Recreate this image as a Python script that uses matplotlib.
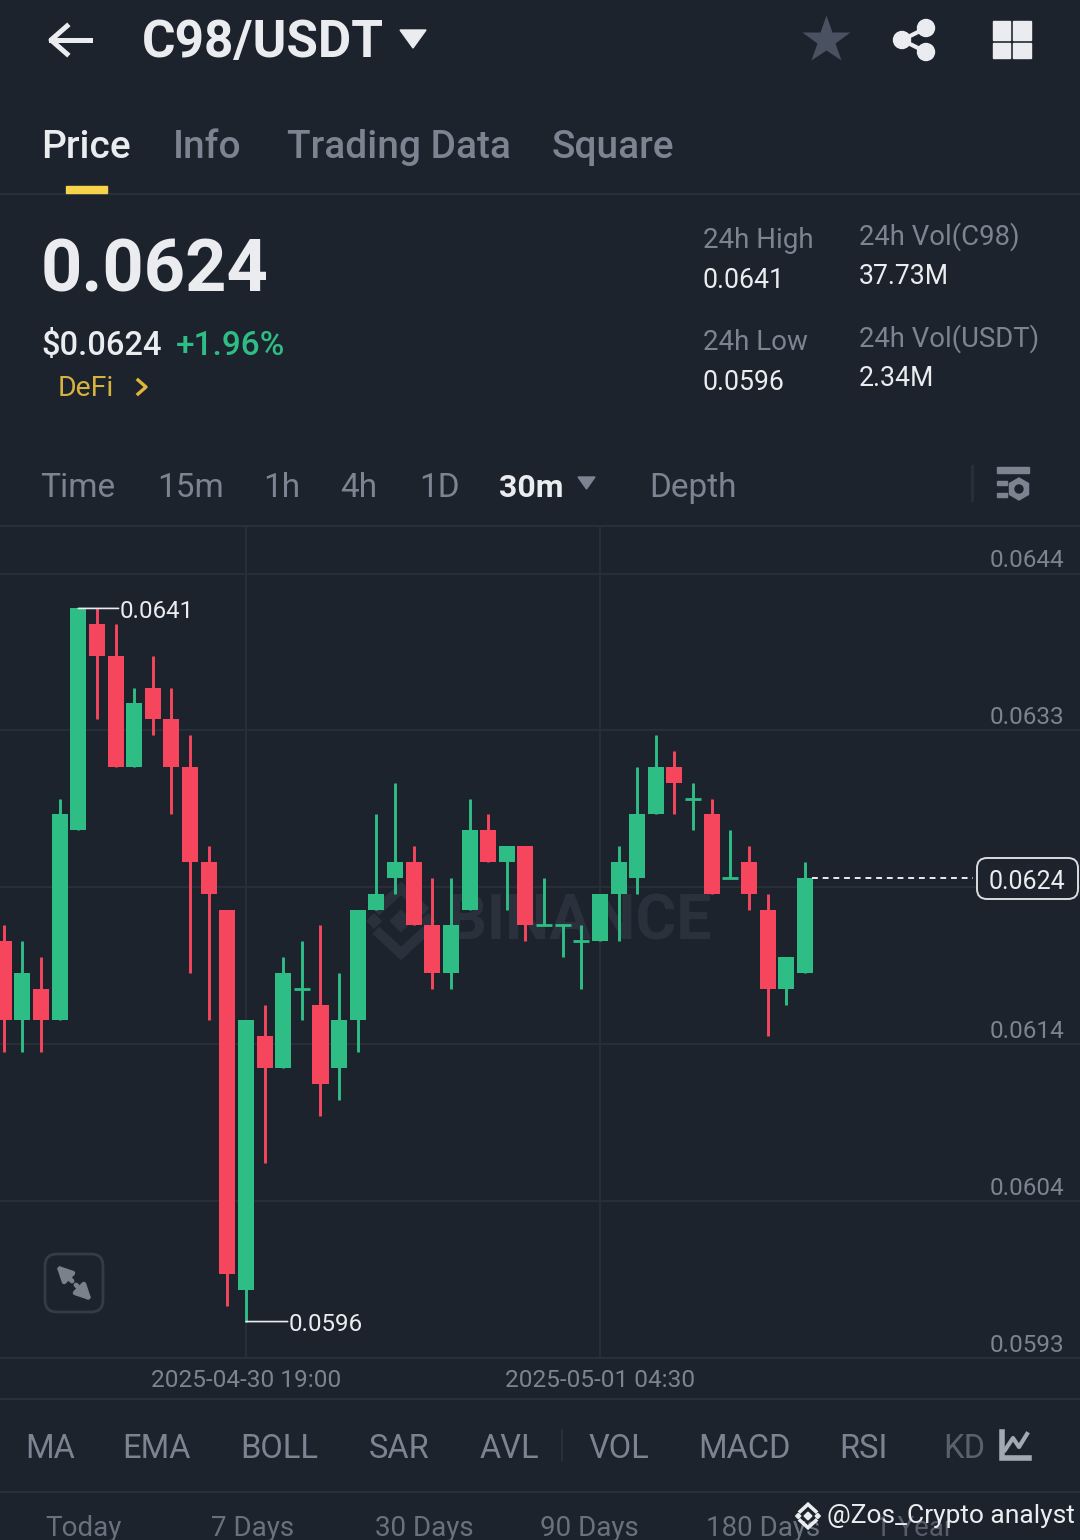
import matplotlib
matplotlib.use('Agg')
import matplotlib.pyplot as plt
from matplotlib.patches import Rectangle, Polygon, Circle, FancyBboxPatch, RegularPolygon

plt.rcParams['font.family'] = ['Roboto', 'DejaVu Sans']

# candles, 30m each
opens = [0.0620, 0.0615, 0.0617, 0.0615, 0.0627, 0.0640, 0.0638, 0.0631, 0.0636, 0.0634, 0.0631,
         0.0625, 0.0622, 0.0598, 0.0614, 0.0612, 0.0617, 0.0616, 0.0612, 0.0615, 0.0622, 0.0624,
         0.0625, 0.0621, 0.0618, 0.0622, 0.0627, 0.0625, 0.0626, 0.0621, 0.0621, 0.0620,
         0.0620, 0.0623, 0.0624, 0.0628, 0.0631, 0.0629, 0.0628, 0.0624, 0.0625, 0.0622, 0.0617, 0.0618]
closes = [0.0615, 0.0618, 0.0615, 0.0628, 0.0641, 0.0638, 0.0631, 0.0635, 0.0634, 0.0631, 0.0625,
          0.0623, 0.0599, 0.0615, 0.0612, 0.0618, 0.0617, 0.0611, 0.0615, 0.0622, 0.0623, 0.0625,
          0.0621, 0.0618, 0.0621, 0.0627, 0.0625, 0.0626, 0.0621, 0.0621, 0.0621, 0.0620,
          0.0623, 0.0625, 0.0628, 0.0631, 0.0630, 0.0629, 0.0623, 0.0624, 0.0623, 0.0617, 0.0619, 0.0624]
highs = [0.0621, 0.0620, 0.0619, 0.0629, 0.0641, 0.0641, 0.0640, 0.0636, 0.0638, 0.0636, 0.0633,
         0.0626, 0.0622, 0.0615, 0.0616, 0.0619, 0.0620, 0.0621, 0.0618, 0.0622, 0.0628, 0.0630,
         0.0626, 0.0624, 0.0624, 0.0629, 0.0628, 0.0626, 0.0626, 0.0624, 0.0621, 0.0621,
         0.0623, 0.0626, 0.0631, 0.0633, 0.0632, 0.0630, 0.0629, 0.0627, 0.0626, 0.0623, 0.0619, 0.0625]
lows = [0.0613, 0.0613, 0.0613, 0.0615, 0.0627, 0.0634, 0.0631, 0.0631, 0.0633, 0.0628, 0.0618,
        0.0615, 0.0597, 0.0596, 0.0606, 0.0612, 0.0615, 0.0609, 0.0610, 0.0613, 0.0622, 0.0623,
        0.0621, 0.0617, 0.0617, 0.0622, 0.0625, 0.0622, 0.0620, 0.0621, 0.0619, 0.0617,
        0.0620, 0.0620, 0.0623, 0.0628, 0.0628, 0.0627, 0.0623, 0.0624, 0.0622, 0.0614, 0.0616, 0.0618]

grid_prices = [0.06432, 0.06333, 0.06234, 0.06135, 0.06036, 0.05937]
grid_labels = ['0.0644', '0.0633', '0.0623', '0.0614', '0.0604', '0.0593']
time_index = [13, 32]
time_labels = ['2025-04-30 19:00', '2025-05-01 04:30']
last_price = 0.0624

tabs = ['Price', 'Info', 'Trading Data', 'Square']
tabs_x = [41, 173, 287, 552]
intervals = ['Time', '15m', '1h', '4h', '1D', '30m', 'Depth']
intervals_x = [40, 157, 263, 340, 419, 499, 649]
indicators = ['MA', 'EMA', 'BOLL', 'SAR', 'AVL', 'VOL', 'MACD', 'RSI', 'KD']
indicators_x = [25, 122, 240, 369, 480, 589, 698, 839, 943]
ranges = ['Today', '7 Days', '30 Days', '90 Days', '180 Days', '1 Year']
ranges_x = [45, 211, 375, 540, 706, 875]

BG = '#1d232d'
GREEN = '#2ebd85'
RED = '#f6465d'
GRID = '#2a303a'
GRAY = '#7c8491'
WHITE = '#eaecef'

fig = plt.figure(figsize=(10.8, 15.4), dpi=100, facecolor=BG)

# pixel canvas for the app chrome
ui = fig.add_axes([0, 0, 1, 1], zorder=0)
ui.set_xlim(0, 1080)
ui.set_ylim(1540, 0)
ui.axis('off')


def label(x, y, s, size=20, color=GRAY, weight='normal', ha='left', z=3):
    ui.text(x, y, s, fontsize=size, color=color, fontweight=weight, ha=ha, va='center', zorder=z)


def logo(cx, cy, r, color, z=2):
    ui.add_patch(Polygon([(cx - r * .3, cy), (cx, cy - r * .3), (cx + r * .3, cy), (cx, cy + r * .3)], color=color, zorder=z))
    for dx in (-r * .75, r * .75):
        ui.add_patch(Polygon([(cx + dx - r * .2, cy), (cx + dx, cy - r * .2), (cx + dx + r * .2, cy), (cx + dx, cy + r * .2)], color=color, zorder=z))
    for s in (-1, 1):
        ui.plot([cx - r * .6, cx, cx + r * .6], [cy + s * r * .35, cy + s * r * .9, cy + s * r * .35],
                color=color, lw=r * .2, solid_joinstyle='miter', zorder=z)


# header
ui.plot([67, 51, 67], [26, 40, 54], color=WHITE, lw=3.6, zorder=3)
ui.plot([51, 90], [40, 40], color=WHITE, lw=3.6, zorder=3)
label(142, 43, 'C98/USDT', 37, WHITE, 'bold')
ui.add_patch(Polygon([(400, 30), (426, 30), (413, 48)], color=WHITE))
ui.plot([826], [40], marker='*', ms=36, color='#4a5160', mec='none')
for p in [(926, 28), (902, 40), (926, 52)]:
    ui.add_patch(Circle(p, 8.5, color=WHITE))
ui.plot([926, 902, 926], [28, 40, 52], color=WHITE, lw=3)
for x0, y0, w, h in [(993, 21, 17, 19), (1013, 21, 18, 19), (993, 43, 17, 15), (1013, 43, 18, 15)]:
    ui.add_patch(Rectangle((x0, y0), w, h, color=WHITE))

# tabs
for i in range(len(tabs)):
    label(tabs_x[i], 147, tabs[i], 28, WHITE if i == 0 else GRAY, 'medium')
ui.add_patch(Rectangle((66, 186), 41, 7, color='#f6d34a', zorder=3))
ui.axhline(194, color=GRID, lw=1.5)

# price block
label(41, 272, '0.0624', 52, WHITE, 'bold')
label(41, 346, '$0.0624', 23.5, WHITE, 'medium')
label(176, 346, '+1.96%', 24, GREEN, 'medium')
label(58, 389, 'DeFi', 20.5, '#d8b23f')
ui.plot([138, 146, 138], [380, 387, 394], color='#e0b63c', lw=2.4)
label(703, 240, '24h High', 20)
label(703, 281, '0.0641', 19.2, WHITE)
label(859, 237, '24h Vol(C98)', 19.8)
label(859, 277, '37.73M', 19.2, WHITE)
label(703, 342, '24h Low', 20)
label(703, 383, '0.0596', 19.2, WHITE)
label(859, 339, '24h Vol(USDT)', 19.8)
label(859, 379, '2.34M', 19.2, WHITE)

# interval row
for i in range(len(intervals)):
    if intervals[i] == '30m':
        label(intervals_x[i], 488, intervals[i], 23, WHITE, 'bold')
    else:
        label(intervals_x[i], 488, intervals[i], 24)
ui.add_patch(Polygon([(578, 477), (595, 477), (586.5, 489)], color=GRAY))
ui.plot([972, 972], [466, 500], color=GRID, lw=2)
ui.add_patch(Rectangle((997, 467), 32, 6, color=GRAY))
ui.add_patch(Rectangle((997, 481), 10, 4, color=GRAY))
ui.add_patch(Rectangle((997, 493), 10, 4, color=GRAY))
ui.add_patch(RegularPolygon((1019, 489), 6, radius=11, color=GRAY))
ui.add_patch(Circle((1019, 489), 4, color=BG, zorder=2))

# watermark sits under the candles
label(447, 923, 'BINANCE', 45, '#2b313c', 'bold', z=1)
logo(401, 921, 36, '#2b313c', z=1)

# expand button
ui.add_patch(FancyBboxPatch((48, 1257), 52, 52, boxstyle='round,pad=3,rounding_size=12', fc='none', ec='#363c47', lw=2))
for a, b in [((72, 1281), (56, 1265)), ((76, 1285), (92, 1301))]:
    ui.annotate('', xy=b, xytext=a, arrowprops=dict(arrowstyle='-|>', color='#7a808c', lw=3.5, mutation_scale=22, shrinkA=0, shrinkB=0))

# lower rows
ui.axhline(1399, color=GRID, lw=1.5)
ui.axhline(1492, color=GRID, lw=1.5)
for i in range(len(indicators)):
    label(indicators_x[i], 1449, indicators[i], 23.5, '#5a616d' if indicators[i] == 'KD' else GRAY)
ui.plot([562, 562], [1430, 1460], color=GRID, lw=1.5)
ui.add_patch(Rectangle((985, 1430), 15, 32, color=BG, alpha=.5, zorder=4))
ui.plot([1002, 1002, 1029], [1432, 1458, 1458], color='#a3a9b3', lw=4, solid_joinstyle='miter', zorder=5)
ui.plot([1005, 1013, 1019, 1027], [1450, 1438, 1447, 1434], color='#a3a9b3', lw=3, zorder=5)
for i in range(len(ranges)):
    label(ranges_x[i], 1528, ranges[i], 20, '#6a717d' if ranges[i] != '1 Year' else '#565c68')
logo(808, 1516, 13, WHITE, z=6)
label(827, 1516, '@Zos_Crypto analyst', 19, WHITE, z=6)

# price chart, y 526-1358 in the picture
ax = fig.add_axes([0, 1 - 1358 / 1540, 1, (1358 - 526) / 1540], zorder=1)
ax.patch.set_alpha(0)
ax.set_xlim(-0.204, 57.77)
ax.set_ylim(0.05937, 0.06462)
for s in ax.spines.values():
    s.set_visible(False)
ax.spines['top'].set_visible(True)
ax.spines['bottom'].set_visible(True)
ax.spines['top'].set_color(GRID)
ax.spines['bottom'].set_color(GRID)
ax.spines['top'].set_linewidth(1.5)
ax.spines['bottom'].set_linewidth(1.5)
ax.set_yticks(grid_prices)
ax.set_yticklabels([])
ax.set_xticks(time_index)
ax.set_xticklabels(time_labels, fontsize=17.6, color=GRAY)
ax.tick_params(length=0)
ax.tick_params(axis='x', pad=8)
ax.grid(True, color=GRID, lw=1.3)
ax.set_axisbelow(True)

for i in range(len(grid_prices)):
    ax.annotate(grid_labels[i], xy=(1, grid_prices[i]), xycoords=('axes fraction', 'data'),
                xytext=(-11, 1), textcoords='offset points', ha='right', va='bottom',
                fontsize=17.5, color=GRAY if grid_labels[i] != '0.0623' else '#3a404b')

# candles
for i in range(len(opens)):
    c = GREEN if closes[i] >= opens[i] else RED
    ax.vlines(i, lows[i], highs[i], color=c, lw=2.1, zorder=3)
    if opens[i] == closes[i]:
        ax.hlines(opens[i], i - .43, i + .43, color=c, lw=2, zorder=3)
    else:
        ax.bar(i, abs(closes[i] - opens[i]), bottom=min(opens[i], closes[i]), width=.86, color=c, zorder=3)

# high / low markers
for idx, price, dx in [(4, max(highs), 29), (13, min(lows), 30)]:
    ax.annotate('', xy=(idx, price), xytext=(dx, 0), textcoords='offset points',
                arrowprops=dict(arrowstyle='-', color=WHITE, lw=1.2, shrinkA=0, shrinkB=0), zorder=5)
    ax.annotate('0.%04d' % round(price * 10000), xy=(idx, price), xytext=(dx + .5, -2), textcoords='offset points',
                va='center', fontsize=17.4, color=WHITE, zorder=5)

# last price line and pill
ax.plot([43.4, 52.05], [last_price, last_price], color=WHITE, lw=1.4, ls=(0, (3, 2.5)), zorder=4)
ax.add_patch(FancyBboxPatch((979, 860), 97, 37, boxstyle='round,pad=2,rounding_size=10', fc=BG, ec=WHITE, lw=1.4, alpha=.92,
                            transform=ui.transData, zorder=6, clip_on=False))
ax.text(1027, 882, '0.0624', fontsize=18, color=WHITE, ha='center', va='center', transform=ui.transData, zorder=7)

plt.savefig('out.png', dpi=100, facecolor=BG)
